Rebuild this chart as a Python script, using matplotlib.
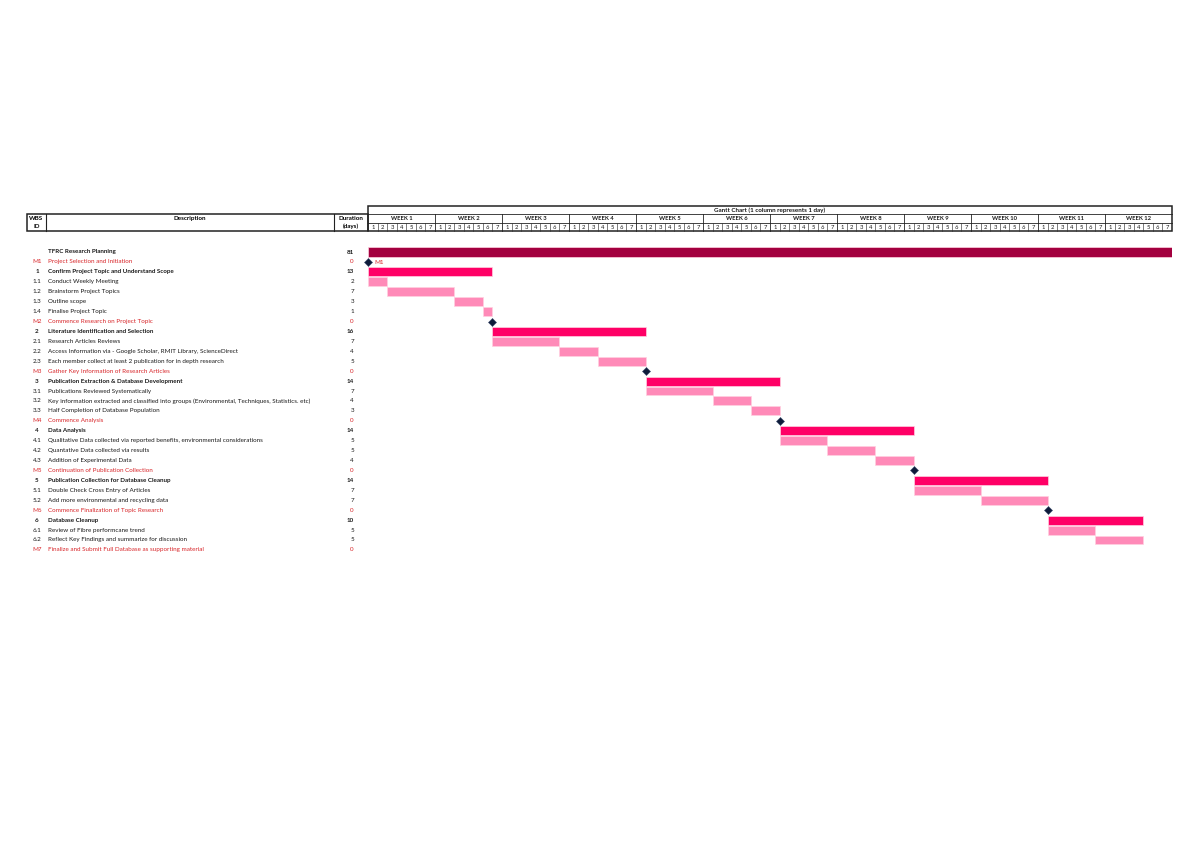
import matplotlib
matplotlib.use("Agg")
import matplotlib.pyplot as plt
from matplotlib import transforms
from matplotlib.patches import Rectangle

plt.rcParams['font.family'] = ['Lato', 'DejaVu Sans']

# ---------------- data ----------------
wbs_ids = ["", "M1", "1", "1.1", "1.2", "1.3", "1.4", "M2", "2", "2.1", "2.2", "2.3", "M3",
           "3", "3.1", "3.2", "3.3", "M4", "4", "4.1", "4.2", "4.3", "M5",
           "5", "5.1", "5.2", "M6", "6", "6.1", "6.2", "M7"]
descriptions = [
    "TFRC Research Planning",
    "Project Selection and Initiation",
    "Confirm Project Topic and Understand Scope",
    "Conduct Weekly Meeting",
    "Brainstorm Project Topics",
    "Outline scope",
    "Finalise Project Topic",
    "Commence Research on Project Topic",
    "Literature Identification and Selection",
    "Research Articles Reviews",
    "Access Information via - Google Scholar, RMIT Library, ScienceDirect",
    "Each member collect at least 2 publication for in depth research",
    "Gather Key Information of Research Articles",
    "Publication Extraction & Database Development",
    "Publications Reviewed Systematically",
    "Key information extracted and classified into groups (Environmental, Techniques, Statistics. etc)",
    "Half Completion of Database Population",
    "Commence Analysis",
    "Data Analysis",
    "Qualitative Data collected via reported benefits, environmental considerations",
    "Quantative Data collected via results",
    "Addition of Experimental Data",
    "Continuation of Publication Collection",
    "Publication Collection for Database Cleanup",
    "Double Check Cross Entry of Articles",
    "Add more environmental and recycling data",
    "Commence Finalization of Topic Research",
    "Database Cleanup",
    "Review of Fibre performcane trend",
    "Reflect Key Findings and summarize for discussion",
    "Finalize and Submit Full Database as supporting material",
]
durations = [81, 0, 13, 2, 7, 3, 1, 0, 16, 7, 4, 5, 0, 14, 7, 4, 3, 0, 14, 5, 5, 4, 0,
             14, 7, 7, 0, 10, 5, 5, 0]
# row kind: P = project, M = milestone, T = task, S = subtask
kinds = ["P", "M", "T", "S", "S", "S", "S", "M", "T", "S", "S", "S", "M",
         "T", "S", "S", "S", "M", "T", "S", "S", "S", "M",
         "T", "S", "S", "M", "T", "S", "S", "M"]
# start day of each bar / milestone (None = not drawn)
starts = [0, 0, 0, 0, 2, 9, 12, 13, 13, 13, 20, 24, 29, 29, 29, 36, 40, 43, 43, 43, 48, 53, 57,
          57, 57, 64, 71, 71, 71, 76, None]
# drawn bar lengths in days
spans = [84, 0, 13, 2, 7, 3, 1, 0, 16, 7, 4, 5, 0, 14, 7, 4, 3, 0, 14, 5, 5, 4, 0,
         14, 7, 7, 0, 10, 5, 5, 0]
weeks = ["WEEK %d" % i for i in range(1, 13)]
days_per_week = 7
chart_title = "Gantt Chart (1 column represents 1 day)"

# ---------------- styles ----------------
C_PROJ = "#A3003F"
C_TASK = "#FF0066"
C_SUB = "#FF8AB8"
C_RED = "#D8262A"
C_TXT = "#1a1a1a"
C_MS = "#0E1B3A"
FS = 4.5

W, H = 1200, 849
fig = plt.figure(figsize=(12, 8.49), dpi=100)
fig.patch.set_facecolor("white")

def fx(x):
    return x / W

def fy(y):
    return 1 - y / H

n = len(wbs_ids)
ndays = days_per_week * len(weeks)
x0, x1 = 368, 1172
row0, rowh = 252, 9.93
ytop = row0 - rowh / 2
ybot = row0 + (n - 0.5) * rowh

ax = fig.add_axes([fx(x0), fy(ybot), (x1 - x0) / W, (ybot - ytop) / H])
ax.set_xlim(0, ndays)
ax.set_ylim(n - 0.5, -0.5)
ax.axis("off")

for i, (k, s, sp) in enumerate(zip(kinds, starts, spans)):
    if s is None:
        continue
    if k == "M":
        ax.plot([s], [i], marker="D", markersize=3.6, color=C_MS,
                markeredgecolor="#3a4a6a", markeredgewidth=0.4, zorder=5,
                clip_on=False)
        continue
    col = {"P": C_PROJ, "T": C_TASK, "S": C_SUB}[k]
    h = 0.98 if k == "P" else 0.9
    ax.barh(i, sp, left=s, height=h, color=col, edgecolor="#ffd0e0",
            linewidth=0.5, zorder=3)

# label of first milestone
ax.text(starts[1] + 0.7, 1 + 0.1, wbs_ids[1], color=C_RED, fontsize=FS,
        va="center", ha="left")

# ---------------- left table text ----------------
tr = transforms.blended_transform_factory(fig.transFigure, ax.transData)
for i in range(n):
    k = kinds[i]
    col = C_RED if k == "M" else C_TXT
    wt = "bold" if k in ("P", "T") else "normal"
    ax.text(fx(37), i, wbs_ids[i], transform=tr, ha="center", va="center",
            fontsize=FS, color=col, fontweight=wt)
    ax.text(fx(48), i, descriptions[i], transform=tr, ha="left", va="center",
            fontsize=FS, color=col, fontweight=wt)
    ax.text(fx(354), i, str(durations[i]), transform=tr, ha="right", va="center",
            fontsize=FS, color=col, fontweight=wt)

# ---------------- gantt header ----------------
hy0, hy1 = 206, 231
hax = fig.add_axes([fx(x0), fy(hy1), (x1 - x0) / W, (hy1 - hy0) / H])
hax.set_xlim(0, ndays)
hax.set_ylim(3, 0)
hax.axis("off")
lw_out = 1.1
hax.add_patch(Rectangle((0, 0), ndays, 3, fill=False, lw=lw_out, ec="#222222",
                        clip_on=False))
hax.plot([0, ndays], [1, 1], color="#222222", lw=0.6, clip_on=False)
hax.plot([0, ndays], [2, 2], color="#222222", lw=0.6, clip_on=False)
hax.text(ndays / 2, 0.55, chart_title, ha="center", va="center", fontsize=FS,
         fontweight="bold", color=C_TXT)
for w, lab in enumerate(weeks):
    xs = w * days_per_week
    if w > 0:
        hax.plot([xs, xs], [1, 3], color="#222222", lw=0.6, clip_on=False)
    hax.text(xs + days_per_week / 2, 1.55, lab, ha="center", va="center",
             fontsize=FS - 0.3, fontweight="bold", color=C_TXT)
    for d in range(days_per_week):
        xd = xs + d
        if d > 0:
            hax.plot([xd, xd], [2, 3], color="#333333", lw=0.45, clip_on=False)
        hax.text(xd + 0.5, 2.55, str(d + 1), ha="center", va="center",
                 fontsize=FS - 0.3, color=C_TXT)

# ---------------- left header ----------------
lx0, ly0, ly1 = 27, 214, 231
lax = fig.add_axes([fx(lx0), fy(ly1), (x0 - lx0) / W, (ly1 - ly0) / H])
lax.set_xlim(lx0, x0)
lax.set_ylim(ly1, ly0)
lax.axis("off")
lax.add_patch(Rectangle((lx0, ly0), x0 - lx0, ly1 - ly0, fill=False, lw=lw_out,
                        ec="#222222", clip_on=False))
for xv in (46, 334):
    lax.plot([xv, xv], [ly0, ly1], color="#222222", lw=0.8, clip_on=False)
lax.text(36.5, 218.5, "WBS", ha="center", va="center", fontsize=FS, fontweight="bold")
lax.text(36.5, 226.5, "ID", ha="center", va="center", fontsize=FS, fontweight="bold")
lax.text(190, 218.5, "Description", ha="center", va="center", fontsize=FS, fontweight="bold")
lax.text(351, 218.5, "Duration", ha="center", va="center", fontsize=FS, fontweight="bold")
lax.text(351, 226.5, "(days)", ha="center", va="center", fontsize=FS, fontweight="bold")

fig.savefig("out.png", dpi=100, facecolor="white")
